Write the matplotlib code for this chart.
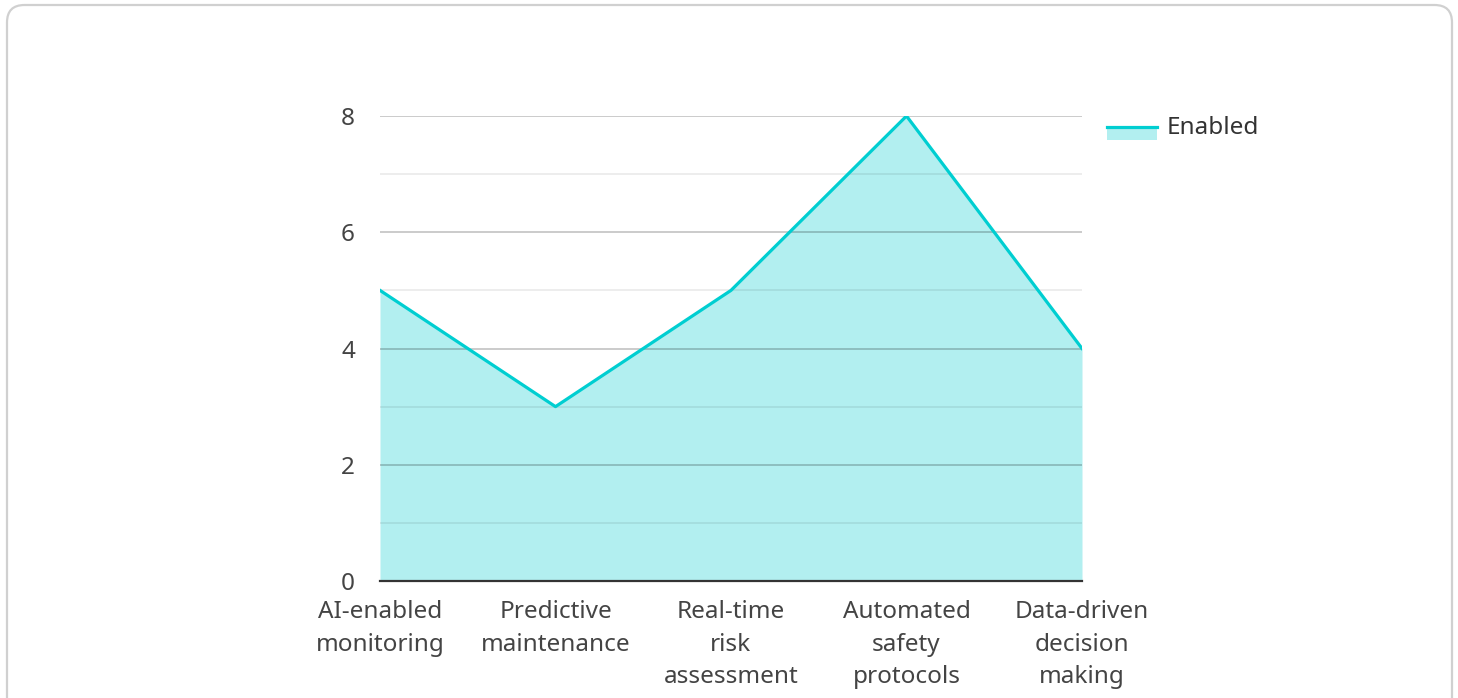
import matplotlib
matplotlib.use("Agg")
import matplotlib.pyplot as plt
from matplotlib.patches import FancyBboxPatch, Rectangle
from matplotlib.lines import Line2D

categories = ["AI-enabled\nmonitoring", "Predictive\nmaintenance", "Real-time\nrisk\nassessment",
              "Automated\nsafety\nprotocols", "Data-driven\ndecision\nmaking"]
values = [5, 3, 5, 8, 4]
series_name = "Enabled"
yticks = [0, 2, 4, 6, 8]
minor_yticks = [1, 3, 5, 7]

line_color = "#00CED1"
fill_color = "#b2eff0"

plt.rcParams['font.family'] = ['Noto Sans', 'DejaVu Sans']

fig = plt.figure(figsize=(14.58, 6.98), dpi=100)
fig.patch.set_facecolor("white")

# card border
card = FancyBboxPatch((7/1458, -0.05), (1452-7)/1458, (698-5)/698 + 0.05,
                      boxstyle="round,pad=0,rounding_size=0.012",
                      transform=fig.transFigure, fill=False, edgecolor="#d0d0d0",
                      linewidth=1.6, mutation_aspect=1458/698)
fig.add_artist(card)

ax = fig.add_axes([380/1458, 1 - 581/698, (1082-380)/1458, (581-116)/698])
x = list(range(len(values)))
ax.fill_between(x, values, 0, color=fill_color, linewidth=0, zorder=1)
ax.plot(x, values, color=line_color, linewidth=2.3, zorder=3)

ax.set_xlim(0, len(values) - 1)
ax.set_ylim(0, 8)
ax.set_yticks(yticks)
ax.set_yticks(minor_yticks, minor=True)
ax.set_xticks(x)
ax.set_xticklabels(categories, linespacing=1.45)
ax.grid(axis='y', which='major', color='black', alpha=0.22, linewidth=1.3, zorder=2)
ax.grid(axis='y', which='minor', color='black', alpha=0.09, linewidth=1.1, zorder=2)
ax.set_axisbelow(False)
for s in ['top', 'right', 'left']:
    ax.spines[s].set_visible(False)
ax.spines['bottom'].set_color("#333333")
ax.spines['bottom'].set_linewidth(1.6)
ax.spines['bottom'].set_zorder(4)
ax.tick_params(axis='both', which='both', length=0, labelsize=17.5, labelcolor="#444444")
ax.tick_params(axis='y', pad=18)
ax.tick_params(axis='x', pad=14)

# legend
fig.add_artist(Rectangle((1107/1458, 1 - 140/698), 50/1458, 13/698, transform=fig.transFigure,
                         facecolor=fill_color, edgecolor='none'))
fig.add_artist(Line2D([1107/1458, 1157/1458], [1 - 127/698, 1 - 127/698], transform=fig.transFigure,
                      color=line_color, linewidth=2.3))
fig.text(1167/1458, 1 - 128/698, series_name, fontsize=17.5, color="#333333", va='center', ha='left')

fig.savefig("out.png", dpi=100)
